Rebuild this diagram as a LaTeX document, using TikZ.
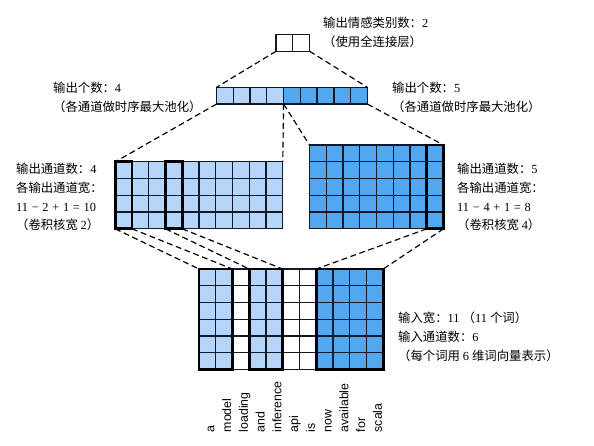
\documentclass[tikz,border=0pt]{standalone}
\usepackage{fontspec}
\setmainfont{Liberation Serif}
\newfontfamily\cjk{Noto Sans CJK SC}
\newfontfamily\wordfont{Liberation Sans}
\usetikzlibrary{positioning}
\definecolor{lightcell}{RGB}{181,214,250}
\definecolor{darkcell}{RGB}{82,168,240}
\definecolor{gridline}{RGB}{20,24,40}
\newcommand{\gap}{\hspace{0.3em}}
\tikzset{
	%cells of every block, and the thick frames round a kernel
	cell/.style = {draw=gridline, line width=1.1pt, minimum size=0.5cm,
	               inner sep=0pt, outer sep=0pt},
	group/.style = {draw=black, line width=2.4pt},
	link/.style = {dashed, dash pattern=on 5pt off 3pt, line width=1pt},
	lab/.style = {inner sep=0pt, align=left, anchor=west,
	              font=\fontsize{10.5}{16}\selectfont},
	word/.style = {inner sep=0pt, rotate=90, anchor=base west,
	               font=\wordfont\fontsize{10.5}{12}\selectfont}
}

\begin{document}
\begin{tikzpicture}[x=0.5cm, y=0.5cm]
	\useasboundingbox (-11.88,-10.51) rectangle (23.58,16.06);
	%output layer
	\foreach \i in {0,1}
		\node[cell, fill=white] (out\i) at (5.1+\i, 13.5) {};
	%pooling
	\foreach \i in {0,...,3}
		\node[cell, fill=lightcell] (pool\i) at (1.55+\i, 10.35) {};
	\foreach \i in {4,...,8}
		\node[cell, fill=darkcell] (pool\i) at (1.55+\i, 10.35) {};
	%convolutions
	\foreach \i in {0,...,9}
		\foreach \j in {0,...,3}
			\node[cell, fill=lightcell] (lc\i-\j) at (-4.5+\i, 5.9-\j) {};
	\foreach \i in {0,...,7}
		\foreach \j in {0,...,4}
			\node[cell, fill=darkcell] (rc\i-\j) at (7.1+\i, 6.9-\j) {};
	%input
	\foreach \i/\c in {0/lightcell, 1/lightcell, 2/white, 3/lightcell,
	                   4/lightcell, 5/white, 6/white, 7/darkcell,
	                   8/darkcell, 9/darkcell, 10/darkcell}
		\foreach \j in {0,...,5}
			\node[cell, fill=\c] (in\i-\j) at (\i+0.5, -\j-0.5) {};
	%thick frames
	\draw[group] (lc0-0.north west) rectangle (lc0-3.south east);
	\draw[group] (lc3-0.north west) rectangle (lc3-3.south east);
	\draw[group] (rc7-0.north west) rectangle (rc7-4.south east);
	\draw[group] (in0-0.north west) rectangle (in1-5.south east);
	\draw[group] (in3-0.north west) rectangle (in4-5.south east);
	\draw[group] (in7-0.north west) rectangle (in10-5.south east);
	%dashed links
	\draw[link] (out0.south west)  -- (pool0.north west);
	\draw[link] (out1.south east)  -- (pool8.north east);
	\draw[link] (pool0.south west) -- (lc0-0.north west);
	\draw[link] (pool3.south east) -- (lc9-0.north east);
	\draw[link] (pool4.south west) -- (rc0-0.north west);
	\draw[link] (pool8.south east) -- (rc7-0.north east);
	\draw[link] (lc0-3.south west) -- (in0-0.north west);
	\draw[link] (lc0-3.south east) -- (in1-0.north east);
	\draw[link] (lc3-3.south west) -- (in3-0.north west);
	\draw[link] (lc3-3.south east) -- (in4-0.north east);
	\draw[link] (rc7-4.south west) -- (in7-0.north west);
	\draw[link] (rc7-4.south east) -- (in10-0.north east);
	%words
	\foreach \i/\w in {0/a, 1/model, 2/loading, 3/and, 4/inference, 5/api,
	                   6/is, 7/now, 8/available, 9/for, 10/scala}
		\node[word] (w\i) at (\i+0.92, -9.76) {\w};
	%labels
	\node[lab] (outlab) at (7.40, 14.12)
		{{\cjk 输出情感类别数：}2\\{\cjk （使用全连接层）}};
	\node[lab] (poollab1) at (-8.72, 10.24)
		{{\cjk 输出个数：}4\\{\cjk （各通道做时序最大池化）}};
	\node[lab] (poollab2) at (11.52, 10.24)
		{{\cjk 输出个数：}5\\{\cjk （各通道做时序最大池化）}};
	\node[lab] (lclab) at (-10.93, 4.30)
		{{\cjk 输出通道数：}4\\{\cjk 各输出通道宽：}\\11\gap−\gap2\gap+\gap1\gap=\gap10\\{\cjk （卷积核宽 }2{\cjk ）}};
	\node[lab] (rclab) at (15.40, 4.30)
		{{\cjk 输出通道数：}5\\{\cjk 各输出通道宽：}\\11\gap−\gap4\gap+\gap1\gap=\gap8\\{\cjk （卷积核宽 }4{\cjk ）}};
	\node[lab] (inlab) at (11.88, -4.06)
		{{\cjk 输入宽：}11 {\cjk （}11 {\cjk 个词）}\\{\cjk 输入通道数：}6\\{\cjk （每个词用 }6 {\cjk 维词向量表示）}};
\end{tikzpicture}
\end{document}
